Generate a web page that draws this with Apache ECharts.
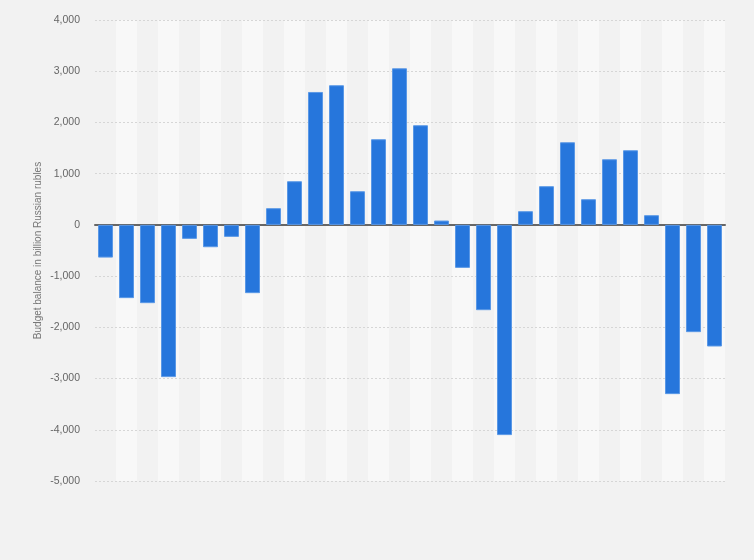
<!DOCTYPE html>
<html>
<head>
<meta charset="utf-8">
<script src="https://cdn.jsdelivr.net/npm/echarts@6/dist/echarts.min.js"></script>
<style>
  html, body { margin: 0; padding: 0; background: #f2f2f2; }
  #chart { width: 754px; height: 560px; }
</style>
</head>
<body>
<div id="chart"></div>
<script>
// one bar per year, values in billion rubles
const years = [
  '1', '2', '3', '4', '5', '6', '7', '8', '9', '10',
  '11', '12', '13', '14', '15', '16', '17', '18', '19', '20',
  '21', '22', '23', '24', '25', '26', '27', '28', '29', '30'
];
const balance = [
  -638, -1430, -1528, -2972, -273, -436, -234, -1333, 326, 852,
  2595, 2726, 657, 1672, 3057, 1945, 85, -839, -1665, -4104,
  267, 755, 1613, 501, 1281, 1457, 189, -3304, -2094, -2374
];
const yTicks = { min: -5000, max: 4000, step: 1000 };

const chart = echarts.init(document.getElementById('chart'));

const labelFont = 'Liberation Sans, Arial';

chart.setOption({
  backgroundColor: '#f2f2f2',
  animation: false,
  grid: { left: 95, right: 29, top: 20, bottom: 79 },
  xAxis: [
    {
      // stripes only, kept underneath the dotted grid lines
      type: 'category',
      data: years,
      position: 'top',
      z: 0,
      axisLine: { show: false, onZero: false },
      axisTick: { show: false },
      axisLabel: { show: false },
      splitArea: { show: true, areaStyle: { color: ['#f2f2f2', '#f8f8f8'] } }
    },
    {
      // zero line
      type: 'category',
      data: years,
      position: 'bottom',
      z: 2,
      axisLine: { onZero: true, lineStyle: { color: '#666', width: 2 } },
      axisTick: { show: false },
      axisLabel: { show: false }
    }
  ],
  yAxis: {
    type: 'value',
    min: yTicks.min,
    max: yTicks.max,
    interval: yTicks.step,
    z: 1,
    name: 'Budget balance in billion Russian rubles',
    nameLocation: 'middle',
    nameGap: 52,
    nameMoveOverlap: false,
    nameTextStyle: { color: '#777', fontSize: 10, fontFamily: labelFont },
    axisLine: { show: false },
    axisTick: { show: false },
    axisLabel: {
      color: '#666',
      fontSize: 10.5,
      fontFamily: labelFont,
      margin: 15,
      formatter: v => v.toLocaleString('en-US')
    },
    splitLine: { lineStyle: { color: '#d6d6d6', type: [2, 2], width: 1 } }
  },
  series: [{
    type: 'bar',
    xAxisIndex: 1,
    data: balance,
    barWidth: 15,
    itemStyle: { color: '#2676dc', borderColor: '#5a98e6', borderWidth: 1 }
  }]
});
</script>
</body>
</html>
